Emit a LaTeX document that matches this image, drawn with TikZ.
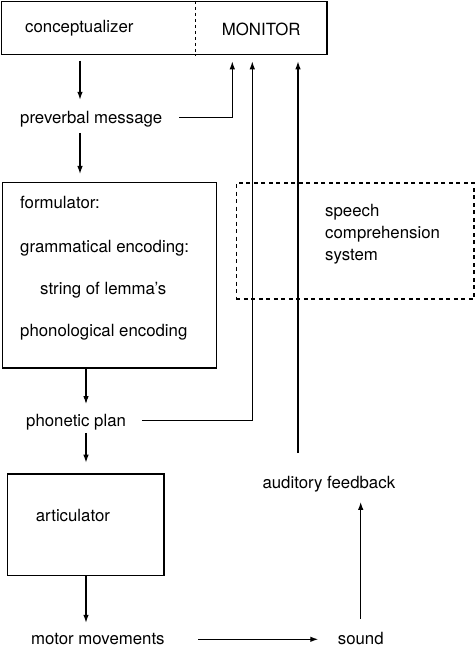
\documentclass[tikz,border=0pt]{standalone}
\usepackage{fontspec}
\setmainfont{TeX Gyre Heros}
\usetikzlibrary{arrows.meta,calc}
\begin{document}
\begin{tikzpicture}[x=1pt,y=-1pt,
  lw/.style={line width=1.2pt},
  box/.style={draw,lw,rectangle,inner sep=0pt,anchor=north west},
  dbox/.style={box,dash pattern=on 4pt off 3.5pt},
  lbl/.style={inner sep=0pt,anchor=base west,text height=12pt,text depth=3.5pt,
    font=\fontsize{16.8}{21.7}\selectfont},
  arr/.style={lw,-{Latex[length=8pt,width=5.5pt]}}]
\useasboundingbox (0,0) rectangle (474,647);
% boxes
\node[box,minimum width=325.5pt,minimum height=53.3pt] (top) at (0.8,0.8) {};
\draw[lw,dash pattern=on 3pt off 3pt] (top.north -| 195.7,0) coordinate (dv1) -- (top.south -| dv1);
\node[box,minimum width=214pt,minimum height=185.6pt] (fbox) at (2,181.7) {};
\node[dbox,minimum width=237.6pt,minimum height=116pt] (sbox) at (235.7,182.3) {};
\node[box,minimum width=156.6pt,minimum height=101.7pt] (abox) at (6.7,473.3) {};
% texts
\node[lbl] (concept) at (25,32.5) {conceptualizer};
\node[lbl] (mon) at (221.7,36) {MONITOR};
\node[lbl] (pm) at (20,123.3) {preverbal message};
\node[lbl] (f1) at (20,208.3) {formulator:};
\node[lbl] (f2) at (20,252.3) {grammatical encoding:};
\node[lbl] (f3) at (40,294) {string of lemma's};
\node[lbl] (f4) at (20,336.7) {phonological encoding};
\node[lbl] (s1) at (325,216.7) {speech};
\node[lbl] (s2) at (325,238.3) {comprehension};
\node[lbl] (s3) at (325,260) {system};
\node[lbl] (pp) at (26,426) {phonetic plan};
\node[lbl] (art) at (35.7,521.7) {articulator};
\node[lbl] (af) at (262.3,488.3) {auditory feedback};
\node[lbl,text depth=1pt] (mm) at (31,644.5) {motor movements};
\node[lbl,text depth=1pt] (snd) at (337.7,644.5) {sound};
% columns
\coordinate (cA) at (80,0);
\coordinate (cB) at (232.3,0);
\coordinate (cC) at (252.3,0);
\coordinate (cD) at (298,0);
\coordinate (cE) at (86,0);
\coordinate (cF) at (360.7,0);
% connectors
\draw[arr,shorten <=5.3pt,shorten >=11.3pt] (top.south -| cA) -- (pm.north -| cA);
\draw[arr,shorten <=5.9pt,shorten >=7.7pt] (pm.south -| cA) -- (fbox.north -| cA);
\draw[arr] ($(pm.east)+(17,-1.7)$) -| ($(top.south -| cB)+(0,6)$);
\draw[arr] ($(pp.east)+(15.8,-1)$) -| ($(top.south -| cC)+(0,6)$);
\draw[arr] ($(af.north -| cD)+(0,-23)$) -- ($(top.south -| cD)+(0,6)$);
\draw[arr,shorten >=9.7pt] (fbox.south -| cE) -- (pp.north -| cE);
\draw[arr,shorten <=3.2pt,shorten >=10.6pt] (pp.south -| cE) -- (abox.north -| cE);
\draw[arr,shorten >=9.5pt] (abox.south -| cE) -- (mm.north -| cE);
\draw[arr] ($(mm.east)+(33.6,0.3)$) -- ($(snd.west)+(-19.4,0.3)$);
\draw[arr,shorten <=13.5pt,shorten >=9.9pt] (snd.north -| cF) -- (af.south -| cF);
\end{tikzpicture}
\end{document}
